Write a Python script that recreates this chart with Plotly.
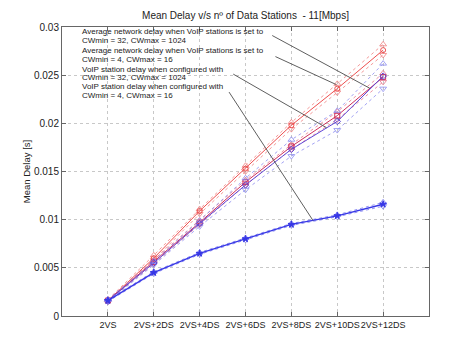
import plotly.graph_objects as go
import numpy as np

categories = ["2VS", "2VS+2DS", "2VS+4DS", "2VS+6DS", "2VS+8DS", "2VS+10DS", "2VS+12DS"]
xpos = [1, 2, 3, 4, 5, 6, 7]

# Network delay, VoIP CWmin=4, CWmax=16 (top red)
netB_mean = [0.0016, 0.0060, 0.0109, 0.0153, 0.0198, 0.0236, 0.0276]
netB_up   = [0.0017, 0.0063, 0.0111, 0.0156, 0.0201, 0.0241, 0.0282]
netB_dn   = [0.0015, 0.0058, 0.0106, 0.0150, 0.0194, 0.0232, 0.0271]
# Network delay, VoIP CWmin=32, CWmax=1024 (middle red)
netA_mean = [0.0016, 0.0056, 0.0097, 0.0139, 0.0176, 0.0208, 0.0248]
netA_up   = [0.0017, 0.0058, 0.0099, 0.0141, 0.0178, 0.0212, 0.0252]
netA_dn   = [0.0015, 0.0054, 0.0095, 0.0136, 0.0173, 0.0204, 0.0243]
# VoIP delay, CWmin=32, CWmax=1024 (middle blue)
voC_mean = [0.0016, 0.0055, 0.0096, 0.0136, 0.0173, 0.0202, 0.0249]
voC_up   = [0.0017, 0.0057, 0.0099, 0.0143, 0.0183, 0.0213, 0.0262]
voC_dn   = [0.0015, 0.0053, 0.0093, 0.0131, 0.0166, 0.0193, 0.0236]
# VoIP delay, CWmin=4, CWmax=16 (bottom blue)
voD_mean = [0.0016, 0.0045, 0.0065, 0.0080, 0.0095, 0.0104, 0.0116]
voD_up   = [0.0017, 0.0046, 0.0066, 0.0081, 0.0096, 0.0105, 0.0118]
voD_dn   = [0.0015, 0.0044, 0.0064, 0.0079, 0.0094, 0.0103, 0.0114]

ytick_vals = [0, 0.005, 0.01, 0.015, 0.02, 0.025, 0.03]
ytick_text = ["0", "0.005", "0.01", "0.015", "0.02", "0.025", "0.03"]

labels = [
    ["Average network delay when VoIP stations is set to", "CWmin = 32, CWmax = 1024"],
    ["Average network delay when VoIP stations is set to", "CWmin = 4, CWmax = 16"],
    ["VoIP station delay when configured with", "CWmin = 32, CWmax = 1024"],
    ["VoIP station delay when configured with", "CWmin = 4, CWmax = 16"],
]

FONT = "Liberation Sans, Arial, sans-serif"
fig = go.Figure()

series = [
    (netB_mean, netB_up, netB_dn, "rgb(238,80,80)", "rgba(240,130,130,0.8)", "circle-open", 1.0),
    (netA_mean, netA_up, netA_dn, "rgb(205,45,90)", "rgba(230,120,140,0.8)", "square-open", 1.0),
    (voC_mean, voC_up, voC_dn, "rgb(95,70,215)", "rgba(140,140,240,0.8)", "diamond-open", 1.0),
    (voD_mean, voD_up, voD_dn, "rgb(55,55,230)", "rgba(120,120,240,0.8)", "star", 1.3),
]

for mean, up, dn, col, cicol, sym, w in series:
    fig.add_trace(go.Scatter(x=xpos, y=up, mode="lines+markers",
                             line=dict(color=cicol, width=1, dash="dot"),
                             marker=dict(symbol="triangle-up-open", size=6, color=cicol, line=dict(width=1)),
                             showlegend=False))
    fig.add_trace(go.Scatter(x=xpos, y=dn, mode="lines+markers",
                             line=dict(color=cicol, width=1, dash="dot"),
                             marker=dict(symbol="triangle-down-open", size=6, color=cicol, line=dict(width=1)),
                             showlegend=False))
    fig.add_trace(go.Scatter(x=xpos, y=mean, mode="lines+markers",
                             line=dict(color=col, width=w),
                             marker=dict(symbol=sym, size=5, color=col, line=dict(width=1, color=col)),
                             showlegend=False))

# text labels
line_y = [31.7, 40.7, 50.7, 60.0, 69.0, 77.7, 86.7, 95.7]
k = 0
for blk in labels:
    for t in blk:
        fig.add_annotation(text=t, xref="paper", yref="paper", x=(79.5 - 62) / 367,
                           y=(316 - line_y[k]) / 289, xanchor="left", yanchor="middle",
                           showarrow=False, font=dict(family=FONT, size=8, color="#222"))
        k += 1

def interp(arr, p):
    return float(np.interp(p, xpos, arr))

# leader lines: (tail pos, tail y), (tip pos, tip value)
leaders = [
    ((4.55, 0.0292), (6.71, interp(netA_mean, 6.71))),
    ((4.62, 0.0270), (5.98, interp(netB_up, 5.98))),
    ((3.70, 0.0252), (5.77, interp(voC_mean, 5.77))),
    ((3.62, 0.0234), (5.47, interp(voD_mean, 5.47))),
]
for (tx, ty), (hx, hy) in leaders:
    fig.add_annotation(x=hx, y=hy, ax=tx, ay=ty, xref="x", yref="y", axref="x", ayref="y",
                       text="", showarrow=True, arrowhead=0, arrowwidth=1, arrowcolor="rgb(95,95,95)")

fig.update_layout(
    width=474, height=355,
    margin=dict(l=62, r=45, t=27, b=39),
    paper_bgcolor="white", plot_bgcolor="white",
    font=dict(family=FONT, size=10, color="#222"),
    title=dict(text="Mean Delay v/s nº of Data Stations  - 11[Mbps]", x=0.5, xref="paper",
               y=1 - 15 / 355, yref="container", yanchor="middle", xanchor="center",
               font=dict(family=FONT, size=10, color="#222")),
    showlegend=False,
)
fig.update_xaxes(range=[0, 8], tickvals=xpos, ticktext=categories, tickangle=0, showline=True, linecolor="#666",
                 linewidth=1, mirror="ticks", ticks="inside", ticklen=4, tickcolor="#666",
                 showgrid=True, gridcolor="#c8c8c8", griddash="dot", gridwidth=1, zeroline=False,
                 tickfont=dict(family=FONT, size=9, color="#222"))
fig.update_yaxes(range=[0, 0.03], tickvals=ytick_vals, ticktext=ytick_text, showline=True, linecolor="#666",
                 linewidth=1, mirror="ticks", ticks="inside", ticklen=4, tickcolor="#666",
                 showgrid=True, gridcolor="#c8c8c8", griddash="dot", gridwidth=1, zeroline=False,
                 title=dict(text="Mean Delay [s]", standoff=1, font=dict(family=FONT, size=9.5, color="#222")),
                 tickfont=dict(family=FONT, size=10, color="#222"))

fig.write_html("out.html")
